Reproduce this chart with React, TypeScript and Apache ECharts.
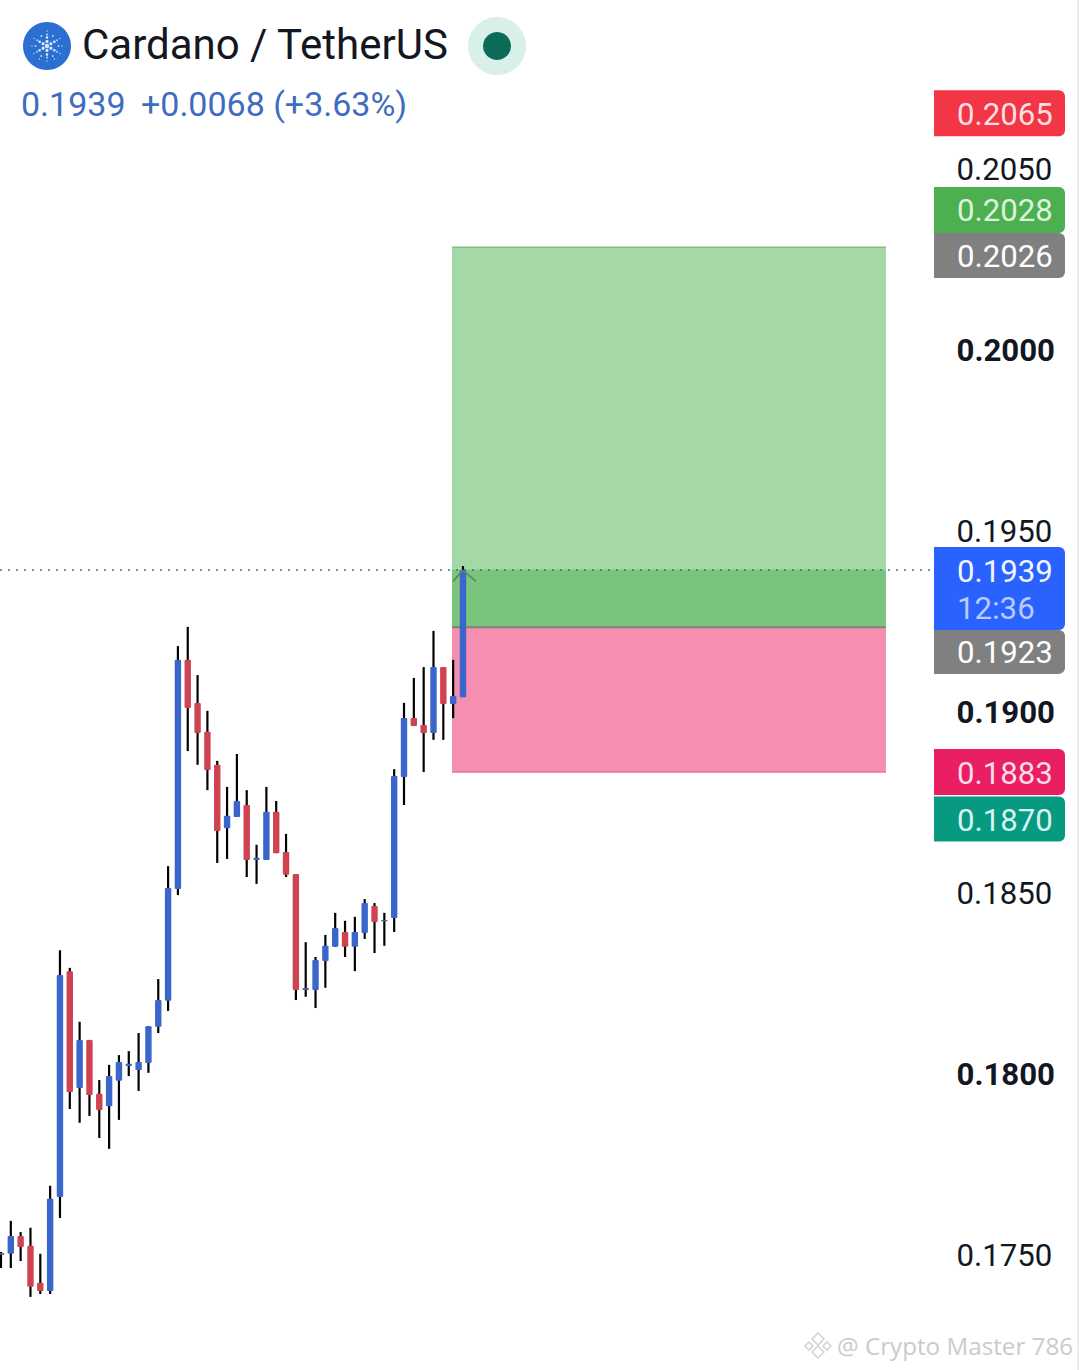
import React, { useEffect, useRef } from "react";
import * as echarts from "echarts";

// [open, close, low, high]
const candles: number[][] = [
  [0.17496, 0.17501, 0.1746, 0.17504],
  [0.17499, 0.17548, 0.1746, 0.1759],
  [0.17548, 0.17518, 0.17479, 0.17559],
  [0.17521, 0.17408, 0.1738, 0.17571],
  [0.17419, 0.17396, 0.17388, 0.17499],
  [0.17396, 0.17651, 0.17388, 0.17687],
  [0.17656, 0.18269, 0.17598, 0.18338],
  [0.1828, 0.17946, 0.17899, 0.18289],
  [0.17957, 0.1809, 0.17861, 0.1814],
  [0.1809, 0.17938, 0.1788, 0.1809],
  [0.17941, 0.17896, 0.17819, 0.17979],
  [0.17907, 0.1799, 0.17789, 0.18021],
  [0.17977, 0.18029, 0.17869, 0.18048],
  [0.18018, 0.18024, 0.1799, 0.18059],
  [0.18007, 0.18029, 0.17949, 0.18109],
  [0.18026, 0.18128, 0.17999, 0.18128],
  [0.18126, 0.182, 0.18109, 0.18258],
  [0.18198, 0.1851, 0.1817, 0.1857],
  [0.18507, 0.1914, 0.1849, 0.19178],
  [0.1914, 0.19007, 0.18888, 0.19231],
  [0.19021, 0.18938, 0.1885, 0.19098],
  [0.18941, 0.18836, 0.1878, 0.18999],
  [0.1885, 0.18667, 0.18579, 0.18861],
  [0.18675, 0.18709, 0.1859, 0.18789],
  [0.18706, 0.1875, 0.18706, 0.1888],
  [0.18739, 0.18587, 0.1854, 0.1878],
  [0.18587, 0.18593, 0.18521, 0.18629],
  [0.18587, 0.1872, 0.18587, 0.18789],
  [0.1872, 0.18606, 0.18606, 0.1875],
  [0.18609, 0.18546, 0.1854, 0.18659],
  [0.18548, 0.18228, 0.182, 0.18548],
  [0.18228, 0.18233, 0.18209, 0.1836],
  [0.18228, 0.18311, 0.18178, 0.18319],
  [0.18308, 0.1835, 0.18234, 0.1838],
  [0.18347, 0.18399, 0.18347, 0.18441],
  [0.18388, 0.18347, 0.18319, 0.18419],
  [0.18347, 0.18388, 0.1828, 0.1843],
  [0.18385, 0.18468, 0.18369, 0.18479],
  [0.1846, 0.18416, 0.1833, 0.18468],
  [0.18419, 0.18421, 0.1835, 0.18441],
  [0.18427, 0.18819, 0.18388, 0.18838],
  [0.18816, 0.18979, 0.18739, 0.19021],
  [0.18979, 0.18957, 0.18957, 0.1909],
  [0.1896, 0.18938, 0.1883, 0.1912],
  [0.18938, 0.1912, 0.18919, 0.1922],
  [0.1912, 0.19018, 0.18919, 0.1912],
  [0.19018, 0.1904, 0.18979, 0.1914],
  [0.19037, 0.19388, 0.19037, 0.19399],
];

const lastPrice = 0.1939;
const entryPrice = 0.1923;
const targetPrice = 0.2028;
const stopPrice = 0.1883;
const toolStartBar = 45.88;
const toolEndBar = 90.03;

const yTicks = [0.175, 0.18, 0.185, 0.19, 0.195, 0.2, 0.205];
const boldTicks = [0.18, 0.19, 0.2];

const tagTexts = ["0.2065", "0.2028", "0.2026", "0.1939", "0.1923", "0.1883", "0.1870"];
const tagPrices = [0.2065, 0.20383, 0.20257, 0.19337, 0.19162, 0.1883, 0.187];
const tagHeights = [46, 46, 45, 83, 44, 46, 45];
const tagFills = ["#f23645", "#4caf50", "#808080", "#2962ff", "#808080", "#e91e63", "#089981"];
const tagInks = ["#fbdfe2", "#dcf3dd", "#ffffff", "#f2f5ff", "#ffffff", "#fbdbe6", "#d6f5ef"];

const FONT = "Roboto";
const UP = "#3a66cc";
const DOWN = "#cf4351";

const logoRings = [
  { r: 0, n: 1, s: 2.2 },
  { r: 4.5, n: 6, s: 1.6 },
  { r: 8.5, n: 6, s: 1.3 },
  { r: 11.5, n: 12, s: 0.8 },
  { r: 15, n: 12, s: 0.6 },
];

function logoDots() {
  const out: any[] = [];
  logoRings.forEach((ring) => {
    for (let k = 0; k < ring.n; k++) {
      const a = (k * 2 * Math.PI) / ring.n + (ring.n === 6 ? Math.PI / 6 : 0);
      out.push({
        type: "circle",
        shape: { cx: 47 + ring.r * Math.cos(a), cy: 46 + ring.r * Math.sin(a), r: ring.s },
        style: { fill: "#d9e6fb" },
        z: 12,
      });
    }
  });
  return out;
}

function wmDiamond(cx: number, cy: number, r: number) {
  return {
    type: "polygon",
    shape: { points: [[cx, cy - r], [cx + r, cy], [cx, cy + r], [cx - r, cy]] },
    style: { fill: "none", stroke: "#d4d4d4", lineWidth: 1.6 },
    z: 12,
  };
}

export default function App() {
  const ref = useRef<HTMLDivElement>(null);
  useEffect(() => {
    document.body.style.margin = "0";
    const chart = echarts.init(ref.current!, undefined, { renderer: "svg" });
    const option: any = {
      animation: false,
      backgroundColor: "#ffffff",
      grid: { left: 0, right: 0, top: 0, bottom: 0 },
      xAxis: { type: "value", min: -0.1, max: 109.77, show: false },
      yAxis: {
        type: "value",
        position: "right",
        min: 0.17178,
        max: 0.20963,
        splitLine: { show: false },
        axisLine: { show: false },
        axisTick: { show: false },
        axisLabel: {
          inside: true,
          align: "left",
          margin: 123.5,
          padding: [4, 0, 0, 0],
          customValues: yTicks,
          formatter: (v: number) => {
            const s = v.toFixed(4);
            return boldTicks.some((b) => Math.abs(b - v) < 1e-6) ? `{b|${s}}` : `{n|${s}}`;
          },
          rich: {
            n: { fontFamily: FONT, fontSize: 31.2, color: "#131722" },
            b: { fontFamily: FONT, fontSize: 31.2, fontWeight: "bold", color: "#131722" },
          },
        },
      },
      series: [
        {
          type: "custom",
          name: "position",
          coordinateSystem: "cartesian2d",
          clip: false,
          z: 1,
          data: [[toolStartBar, toolEndBar, targetPrice, lastPrice, entryPrice, stopPrice]],
          renderItem: (_p: any, api: any) => {
            const x0 = api.coord([api.value(0), api.value(2)])[0];
            const x1 = api.coord([api.value(1), api.value(2)])[0];
            const yT = api.coord([api.value(0), api.value(2)])[1];
            const yL = api.coord([api.value(0), api.value(3)])[1];
            const yE = api.coord([api.value(0), api.value(4)])[1];
            const yS = api.coord([api.value(0), api.value(5)])[1];
            const rect = (a: number, b: number, fill: string) => ({
              type: "rect",
              shape: { x: x0, y: a, width: x1 - x0, height: b - a },
              style: { fill },
            });
            const line = (y: number, stroke: string, lineWidth: number) => ({
              type: "line",
              shape: { x1: x0, y1: y, x2: x1, y2: y },
              style: { stroke, lineWidth },
            });
            return {
              type: "group",
              children: [
                rect(yT, yL, "#a5d8a7"),
                rect(yL, yE, "#7bc47e"),
                rect(yE, yS, "#f48fb1"),
                line(yT, "#85bd88", 1.5),
                line(yE, "#7f7f7f", 2),
                line(yS, "#e0789c", 1.5),
              ],
            };
          },
        },
        {
          type: "custom",
          name: "price line",
          coordinateSystem: "cartesian2d",
          clip: false,
          z: 2,
          data: [[lastPrice]],
          renderItem: (_p: any, api: any) => {
            const y = api.coord([0, api.value(0)])[1] + 0.7;
            return {
              type: "line",
              shape: { x1: 0, y1: y, x2: 933, y2: y },
              style: { stroke: "#2f7f6c", lineWidth: 1.6, lineDash: [2, 6] },
            };
          },
        },
        {
          type: "custom",
          name: "ADAUSDT",
          coordinateSystem: "cartesian2d",
          clip: false,
          z: 3,
          data: candles.map((c, i) => [i, ...c]),
          renderItem: (_p: any, api: any) => {
            const i = api.value(0);
            const o = api.value(1);
            const c = api.value(2);
            const x = api.coord([i, o])[0];
            const yO = api.coord([i, o])[1];
            const yC = api.coord([i, c])[1];
            const yLow = api.coord([i, api.value(3)])[1];
            const yHigh = api.coord([i, api.value(4)])[1];
            const top = Math.min(yO, yC);
            const h = Math.max(Math.abs(yO - yC), 1.2);
            const fill = c >= o ? UP : DOWN;
            return {
              type: "group",
              children: [
                {
                  type: "line",
                  shape: { x1: x, y1: yHigh, x2: x, y2: yLow },
                  style: { stroke: "#000000", lineWidth: 2.2 },
                },
                {
                  type: "rect",
                  shape: { x: x - 3.2, y: top, width: 6.4, height: h, r: h < 2 ? 0 : 1 },
                  style: { fill: h < 2 ? "#4a6488" : fill },
                },
              ],
            };
          },
        },
        {
          type: "custom",
          name: "chevron",
          coordinateSystem: "cartesian2d",
          clip: false,
          z: 4,
          data: [[candles.length - 1, lastPrice]],
          renderItem: (_p: any, api: any) => {
            const pt = api.coord([api.value(0), api.value(1)]);
            return {
              type: "polyline",
              shape: {
                points: [
                  [pt[0] - 10, pt[1] + 12],
                  [pt[0], pt[1] + 1],
                  [pt[0] + 13, pt[1] + 12],
                ],
              },
              style: { stroke: "#5e8069", lineWidth: 1.6, fill: "none" },
            };
          },
        },
        {
          type: "custom",
          name: "tags",
          coordinateSystem: "cartesian2d",
          clip: false,
          z: 5,
          data: tagPrices.map((p, i) => [i, p]),
          renderItem: (_p: any, api: any) => {
            const i = api.value(0);
            const y = api.coord([0, api.value(1)])[1];
            const h = tagHeights[i];
            const two = tagTexts[i] === "0.1939";
            const children: any[] = [
              {
                type: "rect",
                shape: { x: 934, y: y - h / 2, width: 131, height: h, r: [0, 6, 6, 0] },
                style: { fill: tagFills[i] },
              },
              {
                type: "text",
                style: {
                  x: 957,
                  y: two ? y - 17 : y + 1,
                  text: tagTexts[i],
                  fontFamily: FONT,
                  fontSize: 31.2,
                  fill: tagInks[i],
                  textAlign: "left",
                  textVerticalAlign: "middle",
                },
              },
            ];
            if (two) {
              children.push({
                type: "text",
                style: {
                  x: 957,
                  y: y + 20,
                  text: "12:36",
                  fontFamily: FONT,
                  fontSize: 31.2,
                  fill: "#b9cbff",
                  textAlign: "left",
                  textVerticalAlign: "middle",
                },
              });
            }
            return { type: "group", children };
          },
        },
      ],
      graphic: [
        { type: "circle", shape: { cx: 47, cy: 46, r: 24 }, style: { fill: "#2b6fd1" }, z: 11 },
        ...logoDots(),
        {
          type: "text",
          x: 82,
          y: 44,
          style: {
            text: "Cardano / TetherUS",
            fontFamily: FONT,
            fontSize: 42,
            fill: "#131722",
            textAlign: "left",
            textVerticalAlign: "middle",
          },
          z: 12,
        },
        { type: "circle", shape: { cx: 497, cy: 46, r: 29 }, style: { fill: "#d9f0ea" }, z: 11 },
        { type: "circle", shape: { cx: 497, cy: 46, r: 14 }, style: { fill: "#0b6b57" }, z: 12 },
        {
          type: "text",
          x: 21,
          y: 104,
          style: {
            text: "0.1939",
            fontFamily: FONT,
            fontSize: 34,
            fill: "#3f6dbd",
            textAlign: "left",
            textVerticalAlign: "middle",
          },
          z: 12,
        },
        {
          type: "text",
          x: 141,
          y: 104,
          style: {
            text: "+0.0068 (+3.63%)",
            fontFamily: FONT,
            fontSize: 34,
            fill: "#3f6dbd",
            textAlign: "left",
            textVerticalAlign: "middle",
          },
          z: 12,
        },
        {
          type: "line",
          shape: { x1: 1078, y1: 0, x2: 1078, y2: 1370 },
          style: { stroke: "#ececec", lineWidth: 2 },
          z: 10,
        },
        wmDiamond(818, 1339, 6),
        wmDiamond(809, 1346, 4),
        wmDiamond(827, 1346, 4),
        wmDiamond(818, 1352, 6),
        {
          type: "text",
          x: 837,
          y: 1345,
          style: {
            text: "@ Crypto Master 786",
            fontFamily: "Open Sans",
            fontSize: 24.2,
            fill: "#cbcbcb",
            textAlign: "left",
            textVerticalAlign: "middle",
          },
          z: 12,
        },
      ],
    };
    chart.setOption(option);
    return () => chart.dispose();
  }, []);
  return <div ref={ref} style={{ width: 1080, height: 1370 }} />;
}
